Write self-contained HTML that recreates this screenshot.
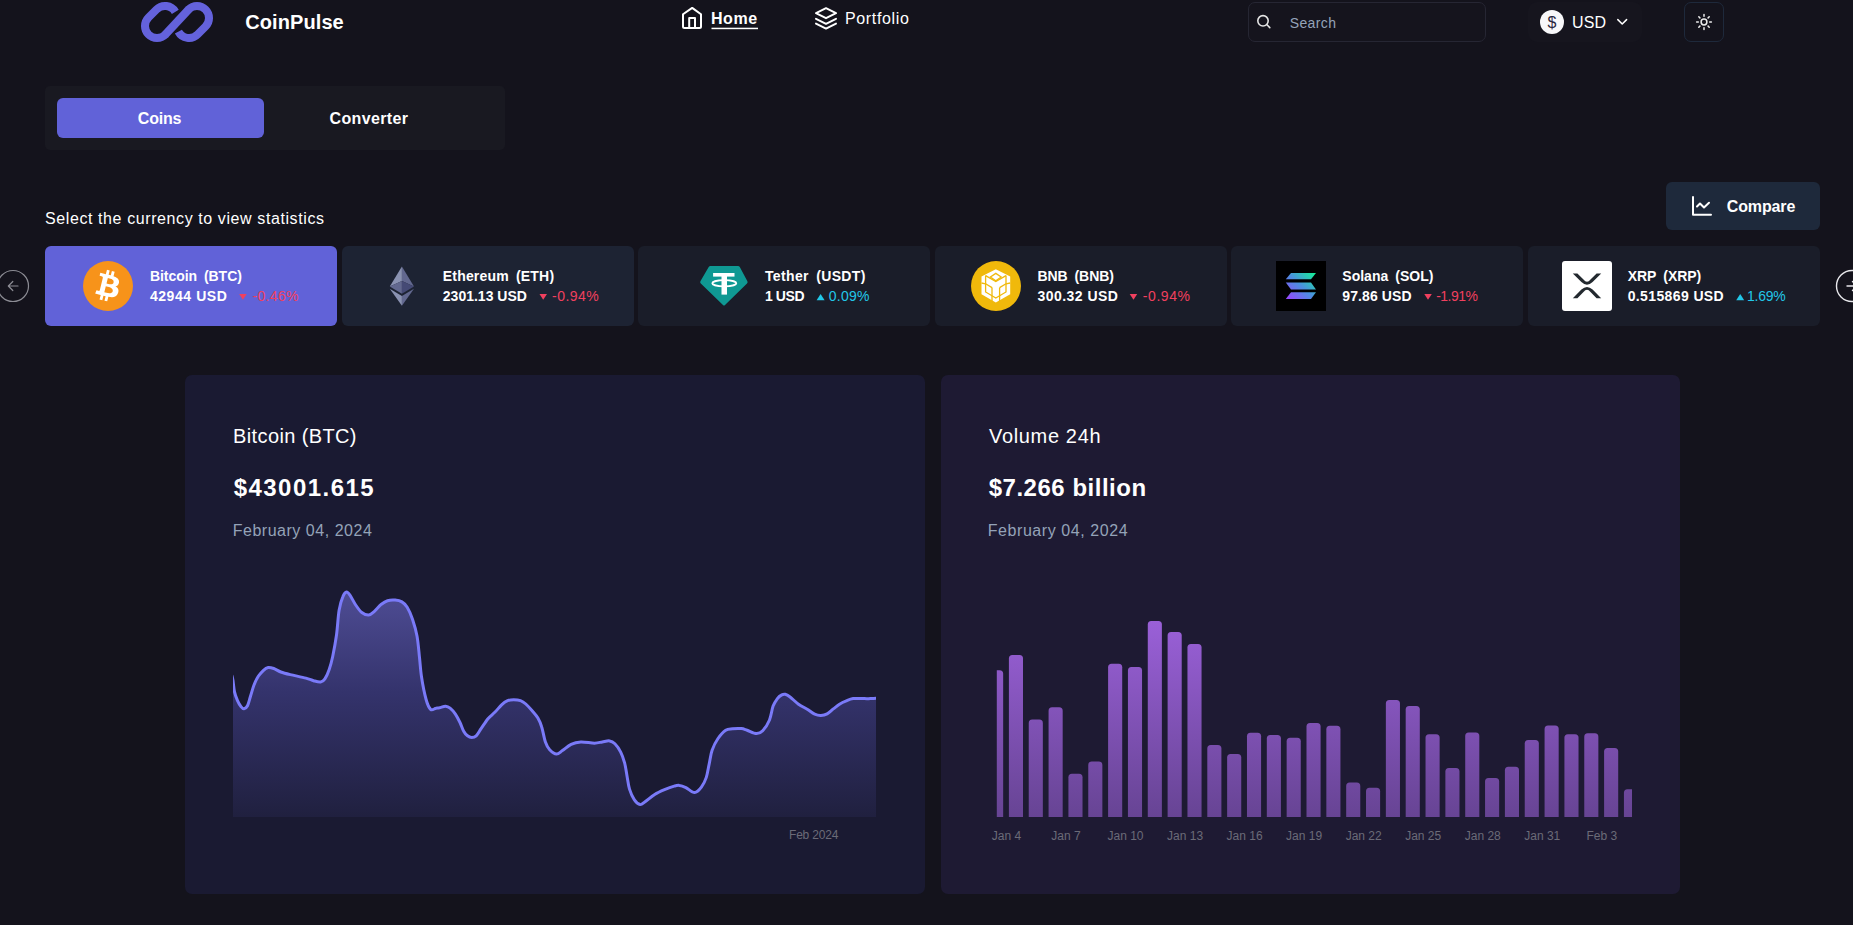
<!DOCTYPE html>
<html><head><meta charset="utf-8"><title>CoinPulse</title>
<style>
html,body{margin:0;padding:0;}
body{width:1853px;height:925px;overflow:hidden;background:#14131c;position:relative;font-family:"Liberation Sans",sans-serif;}
.t{position:absolute;white-space:pre;line-height:1;}
.box{position:absolute;box-sizing:border-box;}
svg{position:absolute;left:0;top:0;overflow:visible;}
</style></head><body>
<!-- header boxes -->
<div class="box" style="left:1248px;top:2px;width:238px;height:40px;border:1px solid #262633;border-radius:7px;background:#15141d"></div>
<div class="box" style="left:1528px;top:2px;width:114px;height:40px;border-radius:9px;background:#16151e"></div>
<div class="box" style="left:1684px;top:2px;width:40px;height:40px;border:1px solid #1e293b;border-radius:7px"></div>
<!-- tabs -->
<div class="box" style="left:45px;top:86px;width:460px;height:64px;background:#191921;border-radius:5px"></div>
<div class="box" style="left:57px;top:98px;width:207px;height:40px;background:#6162d8;border-radius:6px"></div>
<!-- compare -->
<div class="box" style="left:1666px;top:182px;width:154px;height:48px;background:#1e293b;border-radius:6px"></div>
<!-- coin cards -->
<div class="box" style="left:45.00px;top:246px;width:292.08px;height:80px;background:#6162d8;border-radius:6px"></div>
<div class="box" style="left:341.58px;top:246px;width:292.08px;height:80px;background:#1d2333;border-radius:6px"></div>
<div class="box" style="left:638.16px;top:246px;width:292.08px;height:80px;background:#1a1d29;border-radius:6px"></div>
<div class="box" style="left:934.74px;top:246px;width:292.08px;height:80px;background:#1a1d29;border-radius:6px"></div>
<div class="box" style="left:1231.32px;top:246px;width:292.08px;height:80px;background:#1a1d29;border-radius:6px"></div>
<div class="box" style="left:1527.90px;top:246px;width:292.08px;height:80px;background:#1a1d29;border-radius:6px"></div>

<!-- chart cards -->
<div class="box" style="left:185px;top:375px;width:740px;height:519px;background:#1a1a32;border-radius:7px"></div>
<div class="box" style="left:941px;top:375px;width:739px;height:519px;background:#1e1a33;border-radius:7px"></div>

<svg width="1853" height="925" viewBox="0 0 1853 925">
<defs>
<linearGradient id="areaG" gradientUnits="userSpaceOnUse" x1="0" y1="590" x2="0" y2="817">
<stop offset="0" stop-color="#4f4d95"/><stop offset="0.45" stop-color="#34336c"/><stop offset="1" stop-color="#20203f"/>
</linearGradient>
<linearGradient id="barG" gradientUnits="userSpaceOnUse" x1="0" y1="621" x2="0" y2="817">
<stop offset="0" stop-color="#9a60d8"/><stop offset="1" stop-color="#674494"/>
</linearGradient>
<clipPath id="lineClip"><rect x="233" y="560" width="643" height="257"/></clipPath>
<clipPath id="barClip"><rect x="996.8" y="600" width="635.2" height="230"/></clipPath>
<linearGradient id="solG" gradientUnits="userSpaceOnUse" x1="1288" y1="300" x2="1314" y2="272">
<stop offset="0" stop-color="#9945ff"/><stop offset="0.5" stop-color="#4c8fe0"/><stop offset="1" stop-color="#14f195"/>
</linearGradient>
</defs>
<!-- logo -->
<g fill="none" stroke="#6462dc" stroke-width="8"><path d="M175.29,11.82 A12,12 0 0 0 156.51,9.51 L148.51,17.51 A12,12 0 0 0 165.49,34.49" /><path d="M188.51,9.51 A12,12 0 0 1 205.49,26.49 L197.49,34.49 A12,12 0 0 1 178.40,31.63" /><path d="M164.89,35.09 L189.11,8.91" stroke-width="8.2"/></g>
<!-- house -->
<g fill="none" stroke="#ffffff" stroke-width="2" stroke-linejoin="round">
<path d="M683,14.3 L692.2,7.9 L701,14.3 L701,26.4 Q701,27.9 699.5,27.9 L684.5,27.9 Q683,27.9 683,26.4 Z"/>
<path d="M689.2,27.9 L689.2,18.1 L695,18.1 L695,27.9"/>
</g>
<rect x="711.5" y="27.7" width="46.5" height="1.5" fill="#ffffff"/>
<!-- layers -->
<g fill="none" stroke="#ffffff" stroke-width="2" stroke-linejoin="round" stroke-linecap="round">
<path d="M826,8.2 L836,13.2 L826,18.2 L816,13.2 Z"/>
<path d="M816,18.8 L826,23.8 L836,18.8"/>
<path d="M816,23.6 L826,28.6 L836,23.6"/>
</g>
<!-- search icon -->
<g fill="none" stroke="#e5e5e5" stroke-width="1.6" stroke-linecap="round">
<circle cx="1263" cy="20.8" r="5.2"/><path d="M1267,24.8 L1269.8,27.6"/>
</g>
<!-- usd -->
<circle cx="1552" cy="22" r="12" fill="#f8f8fa"/>
<text x="1552" y="27.6" font-family="Liberation Sans" font-size="16" text-anchor="middle" fill="#2a2740">$</text>
<path d="M1617.8,19.6 L1622.2,24 L1626.6,19.6" fill="none" stroke="#ffffff" stroke-width="1.5" stroke-linecap="round" stroke-linejoin="round"/>
<!-- sun -->
<g fill="none" stroke="#ececec" stroke-width="1.5" stroke-linecap="round">
<circle cx="1704" cy="22" r="2.9"/>
<path d="M1704,14.6 V16.3 M1704,27.7 V29.4 M1696.6,22 H1698.3 M1709.7,22 H1711.4 M1698.8,16.8 L1699.9,17.9 M1708.1,26.1 L1709.2,27.2 M1698.8,27.2 L1699.9,26.1 M1708.1,17.9 L1709.2,16.8"/>
</g>
<!-- compare icon -->
<g fill="none" stroke="#ffffff" stroke-width="2" stroke-linecap="round" stroke-linejoin="round">
<path d="M1693,197 V214.8 H1711"/>
<path d="M1697,206.5 L1700,203.5 L1704,207.5 L1709,202.8"/>
</g>
<!-- arrows -->
<g fill="none" stroke="#8c8c94" stroke-width="1.2" stroke-linecap="round" stroke-linejoin="round">
<circle cx="13" cy="286" r="15.5"/>
<path d="M18,286 H8.3 M12.8,281.5 L8.3,286 L12.8,290.5"/>
</g>
<g fill="none" stroke="#e8e8ec" stroke-width="1.4" stroke-linecap="round" stroke-linejoin="round">
<circle cx="1852" cy="286" r="15.5"/>
<path d="M1847,286 H1857 M1852.5,281.5 L1857,286 L1852.5,290.5"/>
</g>
<!-- BTC icon -->
<g transform="translate(83,261) scale(0.78125)">
<circle cx="32" cy="32" r="32" fill="#f7931a"/>
<path fill="#ffffff" d="m46.103,27.444c0.637-4.258-2.605-6.547-7.038-8.074l1.438-5.768-3.511-0.875-1.4,5.616c-0.923-0.23-1.871-0.447-2.813-0.662l1.41-5.653-3.509-0.875-1.439,5.766c-0.764-0.174-1.514-0.346-2.242-0.527l0.004-0.018-4.842-1.209-0.934,3.75s2.605,0.597,2.55,0.634c1.422,0.355,1.679,1.296,1.636,2.042l-1.638,6.571c0.098,0.025,0.225,0.061,0.365,0.117-0.117-0.029-0.242-0.061-0.371-0.092l-2.296,9.205c-0.174,0.432-0.615,1.08-1.609,0.834,0.035,0.051-2.552-0.637-2.552-0.637l-1.743,4.019,4.569,1.139c0.85,0.213,1.683,0.436,2.503,0.646l-1.453,5.834,3.507,0.875,1.439-5.772c0.958,0.26,1.888,0.5,2.798,0.726l-1.434,5.745,3.511,0.875,1.453-5.823c5.987,1.133,10.489,0.676,12.384-4.739,1.527-4.36-0.076-6.875-3.226-8.515,2.294-0.529,4.022-2.038,4.483-5.155zm-8.022,11.249c-1.085,4.36-8.426,2.003-10.806,1.412l1.928-7.729c2.38,0.594,10.012,1.77,8.878,6.317zm1.086-11.312c-0.99,3.966-7.1,1.951-9.082,1.457l1.748-7.01c1.982,0.494,8.365,1.416,7.334,5.553z"/>
</g>
<!-- ETH icon -->
<g transform="translate(389.8,266.4) scale(0.03086)">
<polygon fill="#62688f" points="392.07,0 392.07,472.33 784.13,650.54"/>
<polygon fill="#8a92b2" points="392.07,0 0,650.54 392.07,472.33"/>
<polygon fill="#454a75" points="392.07,882.29 784.13,650.54 392.07,472.33"/>
<polygon fill="#62688f" points="0,650.54 392.07,882.29 392.07,472.33"/>
<polygon fill="#62688f" points="392.07,956.52 392.07,1277.38 784.37,724.89"/>
<polygon fill="#8a92b2" points="392.07,1277.38 392.07,956.52 0,724.89"/>
</g>
<!-- Tether icon -->
<path d="M710.5,266 L738,266 Q739.2,266 739.8,267 L747.4,281.2 Q748,282.4 747,283.4 L725,305 Q724,306 723,305 L700.8,283.4 Q699.8,282.4 700.4,281.2 L708.7,267 Q709.3,266 710.5,266 Z" fill="#0f9993"/>
<rect x="713.1" y="273" width="21.4" height="3.6" fill="#ffffff"/>
<rect x="721.5" y="276" width="5.5" height="18.6" fill="#ffffff"/>
<ellipse cx="724.3" cy="283.2" rx="12" ry="3.1" fill="none" stroke="#ffffff" stroke-width="1.8"/>
<!-- BNB icon -->
<circle cx="996" cy="286" r="25" fill="#f0b90b"/>
<path d="M995.8,269.2 L1010.2,276.6 L1010.2,294.2 L995.8,302.4 L981.5,294.2 L981.5,276.6 Z" fill="#ffffff"/>
<g fill="none" stroke="#f0b90b" stroke-width="1.3" stroke-linejoin="miter">
<path d="M995.8,273.4 L1001.2,277 L995.8,280.8 L990.4,277 Z"/>
<path d="M985.6,275.6 L995.8,281.6 L1006,275.6"/>
<path d="M985.6,275.6 L985.6,292 L992,295.8"/>
<path d="M1006,275.6 L1006,292 L999.6,295.8"/>
<path d="M992,287.6 L992,303"/>
<path d="M999.6,287.6 L999.6,303"/>
<path d="M985.6,283.8 L992,287.6 M1006,283.8 L999.6,287.6"/>
<path d="M992,295.8 L995.8,298 L999.6,295.8"/>
<path d="M981.5,283 L985.6,283.8 M1010.2,283 L1006,283.8"/>
</g>
<!-- SOL icon -->
<rect x="1276" y="261" width="50" height="50" fill="#000000"/>
<g fill="url(#solG)">
<path d="M1291,273 L1316,273 L1311,279.3 L1285.8,279.3 Z"/>
<path d="M1285.8,282.6 L1311,282.6 L1316,289.4 L1291,289.4 Z"/>
<path d="M1291,292.3 L1316,292.3 L1311,299.1 L1285.8,299.1 Z"/>
</g>
<!-- XRP icon -->
<rect x="1562" y="261" width="50" height="50" rx="3" fill="#ffffff"/>
<path fill="#23292f" d="M1572.8,273.4 L1577.4,273.4 L1583.5,279.5 Q1587,284.1 1590.5,279.5 L1596.6,273.4 L1601.2,273.4 L1592.6,282 Q1587,287.4 1581.4,282 Z"/>
<path fill="#23292f" d="M1572.8,298.2 L1577.4,298.2 L1583.5,292.1 Q1587,287.5 1590.5,292.1 L1596.6,298.2 L1601.2,298.2 L1592.6,289.6 Q1587,284.2 1581.4,289.6 Z"/>
<!-- change triangles -->
<path d="M239.2,294.0 L246.7,294 L242.9,299.8 Z" fill="#f0405e"/><path d="M539.5,294.0 L547.0,294 L543.2,299.8 Z" fill="#f0405e"/><path d="M816.6,300.2 L824.6,300.2 L820.6,294 Z" fill="#22c7e8"/><path d="M1129.7,294.0 L1137.2,294 L1133.5,299.8 Z" fill="#f0405e"/><path d="M1424.3,294.0 L1431.8,294 L1428.0,299.8 Z" fill="#f0405e"/><path d="M1736.2,300.2 L1744.2,300.2 L1740.2,294 Z" fill="#22c7e8"/>
<!-- line chart -->
<g clip-path="url(#lineClip)"><path d="M232.0,676.0 C232.2,676.8 232.6,677.9 233.0,680.5 C233.4,683.1 233.8,688.5 234.5,691.9 C235.2,695.2 236.4,698.1 237.5,700.6 C238.6,703.1 239.9,705.2 241.0,706.6 C242.1,708.0 242.9,708.9 244.0,708.8 C245.1,708.6 246.4,707.8 247.5,705.7 C248.6,703.6 249.4,699.7 250.5,696.2 C251.6,692.8 252.7,688.3 254.0,685.0 C255.3,681.7 256.7,678.8 258.3,676.3 C259.9,673.8 261.9,671.8 263.5,670.3 C265.1,668.8 266.5,667.8 268.2,667.5 C269.9,667.2 271.7,667.8 273.8,668.5 C275.9,669.2 278.1,671.0 280.8,672.0 C283.6,673.0 286.1,673.6 290.3,674.6 C294.5,675.6 302.0,677.1 305.9,678.1 C309.8,679.1 311.2,680.1 313.6,680.7 C316.1,681.4 318.7,682.3 320.6,682.0 C322.5,681.7 323.5,681.0 324.9,678.9 C326.3,676.8 327.9,673.1 329.2,669.4 C330.5,665.7 331.5,662.2 332.7,656.5 C333.9,650.8 335.4,642.7 336.5,635.0 C337.6,627.3 338.0,616.7 339.1,610.3 C340.2,603.9 341.6,599.6 342.9,596.6 C344.1,593.6 345.4,592.2 346.6,592.1 C347.9,592.0 348.9,593.8 350.4,595.9 C351.9,598.0 353.8,602.2 355.7,605.0 C357.6,607.8 359.6,610.8 361.8,612.5 C364.0,614.2 366.6,615.2 368.6,615.1 C370.6,615.0 371.8,613.6 373.9,611.8 C376.0,610.0 379.1,606.1 381.4,604.2 C383.7,602.4 385.2,601.4 387.5,600.7 C389.8,600.0 392.7,599.9 395.1,600.1 C397.5,600.3 399.9,600.7 401.9,601.9 C403.9,603.1 405.4,604.3 407.2,607.2 C409.0,610.1 410.9,614.5 412.5,619.3 C414.1,624.1 415.9,630.0 417.0,636.0 C418.1,642.0 418.6,648.8 419.3,655.6 C420.1,662.4 420.4,669.5 421.5,676.8 C422.6,684.1 424.6,694.1 426.1,699.5 C427.6,704.9 429.0,707.8 430.6,709.3 C432.2,710.8 434.4,708.5 435.9,708.3 C437.4,708.0 437.9,708.1 439.5,707.8 C441.1,707.5 443.8,706.2 445.6,706.3 C447.4,706.4 448.5,706.9 450.1,708.2 C451.7,709.5 453.8,711.8 455.4,714.2 C457.0,716.6 458.6,719.7 460.0,722.5 C461.4,725.3 462.4,729.0 463.7,731.2 C464.9,733.4 466.2,734.8 467.5,735.8 C468.8,736.8 470.2,737.5 471.7,737.5 C473.1,737.5 474.6,737.3 476.2,735.8 C477.8,734.3 479.1,731.5 481.1,728.6 C483.1,725.8 485.7,721.4 488.0,718.7 C490.3,716.0 492.5,714.6 494.8,712.3 C497.1,710.0 499.5,706.8 501.6,704.8 C503.7,702.8 505.6,701.5 507.6,700.6 C509.6,699.8 511.6,699.7 513.7,699.7 C515.9,699.7 518.5,699.9 520.5,700.6 C522.5,701.3 523.8,702.2 525.8,704.0 C527.8,705.8 530.6,708.9 532.6,711.2 C534.6,713.5 536.4,715.4 537.9,718.0 C539.4,720.6 540.5,723.0 541.7,727.0 C543.0,731.0 544.1,738.2 545.4,742.0 C546.7,745.8 547.9,747.7 549.7,749.7 C551.6,751.7 554.4,753.9 556.5,754.0 C558.6,754.1 560.0,752.2 562.4,750.6 C564.8,749.0 568.0,745.8 571.1,744.3 C574.2,742.8 577.0,742.1 580.9,741.9 C584.8,741.7 590.9,743.2 594.5,743.2 C598.1,743.2 599.8,742.3 602.3,741.9 C604.8,741.5 607.5,740.6 609.6,740.9 C611.7,741.2 613.0,741.9 614.9,743.8 C616.8,745.7 619.1,748.9 620.7,752.1 C622.3,755.3 623.5,758.8 624.6,762.8 C625.7,766.8 626.3,772.0 627.1,776.4 C627.9,780.8 628.3,785.2 629.5,789.1 C630.7,793.0 632.6,797.2 634.4,799.8 C636.2,802.4 638.4,804.3 640.2,804.6 C642.0,804.9 642.7,803.4 645.1,801.7 C647.5,800.0 651.5,796.4 654.7,794.4 C657.9,792.4 661.2,791.0 664.5,789.6 C667.8,788.2 671.7,786.8 674.2,786.1 C676.7,785.4 677.5,785.1 679.5,785.4 C681.5,785.6 683.4,786.4 685.9,787.6 C688.4,788.8 692.0,792.6 694.6,792.5 C697.2,792.4 699.5,789.6 701.4,787.1 C703.3,784.6 705.0,781.3 706.3,777.4 C707.6,773.5 708.2,768.3 709.2,763.8 C710.2,759.3 710.6,754.4 712.1,750.2 C713.6,746.0 715.7,741.8 718.0,738.5 C720.3,735.2 723.3,731.8 725.7,730.2 C728.1,728.6 729.9,729.1 732.5,728.8 C735.1,728.5 738.9,728.4 741.3,728.6 C743.7,728.8 744.6,729.4 747.1,730.2 C749.6,731.0 753.8,733.5 756.4,733.6 C759.0,733.7 760.5,733.0 762.7,730.7 C764.9,728.4 767.8,724.1 769.5,720.0 C771.2,715.9 771.8,709.7 773.1,706.1 C774.4,702.5 776.0,700.5 777.4,698.6 C778.8,696.7 780.5,695.6 781.8,694.9 C783.1,694.2 783.9,694.0 785.2,694.3 C786.5,694.6 787.6,695.1 789.8,696.8 C792.0,698.4 795.6,702.1 798.5,704.2 C801.4,706.3 804.5,707.6 807.2,709.2 C809.9,710.9 812.4,713.1 814.7,714.1 C817.0,715.1 818.8,715.5 820.9,715.4 C823.0,715.3 825.0,714.9 827.1,713.8 C829.2,712.7 831.2,710.5 833.3,708.9 C835.4,707.3 837.4,705.5 839.5,704.2 C841.6,702.9 843.4,702.0 845.7,701.1 C848.0,700.2 850.0,699.0 853.1,698.6 C856.2,698.2 861.4,698.6 864.3,698.6 C867.2,698.6 868.4,698.7 870.5,698.6 C872.6,698.5 875.9,698.3 877.0,698.2 L877,817 L232,817 Z" fill="url(#areaG)"/>
<path d="M232.0,676.0 C232.2,676.8 232.6,677.9 233.0,680.5 C233.4,683.1 233.8,688.5 234.5,691.9 C235.2,695.2 236.4,698.1 237.5,700.6 C238.6,703.1 239.9,705.2 241.0,706.6 C242.1,708.0 242.9,708.9 244.0,708.8 C245.1,708.6 246.4,707.8 247.5,705.7 C248.6,703.6 249.4,699.7 250.5,696.2 C251.6,692.8 252.7,688.3 254.0,685.0 C255.3,681.7 256.7,678.8 258.3,676.3 C259.9,673.8 261.9,671.8 263.5,670.3 C265.1,668.8 266.5,667.8 268.2,667.5 C269.9,667.2 271.7,667.8 273.8,668.5 C275.9,669.2 278.1,671.0 280.8,672.0 C283.6,673.0 286.1,673.6 290.3,674.6 C294.5,675.6 302.0,677.1 305.9,678.1 C309.8,679.1 311.2,680.1 313.6,680.7 C316.1,681.4 318.7,682.3 320.6,682.0 C322.5,681.7 323.5,681.0 324.9,678.9 C326.3,676.8 327.9,673.1 329.2,669.4 C330.5,665.7 331.5,662.2 332.7,656.5 C333.9,650.8 335.4,642.7 336.5,635.0 C337.6,627.3 338.0,616.7 339.1,610.3 C340.2,603.9 341.6,599.6 342.9,596.6 C344.1,593.6 345.4,592.2 346.6,592.1 C347.9,592.0 348.9,593.8 350.4,595.9 C351.9,598.0 353.8,602.2 355.7,605.0 C357.6,607.8 359.6,610.8 361.8,612.5 C364.0,614.2 366.6,615.2 368.6,615.1 C370.6,615.0 371.8,613.6 373.9,611.8 C376.0,610.0 379.1,606.1 381.4,604.2 C383.7,602.4 385.2,601.4 387.5,600.7 C389.8,600.0 392.7,599.9 395.1,600.1 C397.5,600.3 399.9,600.7 401.9,601.9 C403.9,603.1 405.4,604.3 407.2,607.2 C409.0,610.1 410.9,614.5 412.5,619.3 C414.1,624.1 415.9,630.0 417.0,636.0 C418.1,642.0 418.6,648.8 419.3,655.6 C420.1,662.4 420.4,669.5 421.5,676.8 C422.6,684.1 424.6,694.1 426.1,699.5 C427.6,704.9 429.0,707.8 430.6,709.3 C432.2,710.8 434.4,708.5 435.9,708.3 C437.4,708.0 437.9,708.1 439.5,707.8 C441.1,707.5 443.8,706.2 445.6,706.3 C447.4,706.4 448.5,706.9 450.1,708.2 C451.7,709.5 453.8,711.8 455.4,714.2 C457.0,716.6 458.6,719.7 460.0,722.5 C461.4,725.3 462.4,729.0 463.7,731.2 C464.9,733.4 466.2,734.8 467.5,735.8 C468.8,736.8 470.2,737.5 471.7,737.5 C473.1,737.5 474.6,737.3 476.2,735.8 C477.8,734.3 479.1,731.5 481.1,728.6 C483.1,725.8 485.7,721.4 488.0,718.7 C490.3,716.0 492.5,714.6 494.8,712.3 C497.1,710.0 499.5,706.8 501.6,704.8 C503.7,702.8 505.6,701.5 507.6,700.6 C509.6,699.8 511.6,699.7 513.7,699.7 C515.9,699.7 518.5,699.9 520.5,700.6 C522.5,701.3 523.8,702.2 525.8,704.0 C527.8,705.8 530.6,708.9 532.6,711.2 C534.6,713.5 536.4,715.4 537.9,718.0 C539.4,720.6 540.5,723.0 541.7,727.0 C543.0,731.0 544.1,738.2 545.4,742.0 C546.7,745.8 547.9,747.7 549.7,749.7 C551.6,751.7 554.4,753.9 556.5,754.0 C558.6,754.1 560.0,752.2 562.4,750.6 C564.8,749.0 568.0,745.8 571.1,744.3 C574.2,742.8 577.0,742.1 580.9,741.9 C584.8,741.7 590.9,743.2 594.5,743.2 C598.1,743.2 599.8,742.3 602.3,741.9 C604.8,741.5 607.5,740.6 609.6,740.9 C611.7,741.2 613.0,741.9 614.9,743.8 C616.8,745.7 619.1,748.9 620.7,752.1 C622.3,755.3 623.5,758.8 624.6,762.8 C625.7,766.8 626.3,772.0 627.1,776.4 C627.9,780.8 628.3,785.2 629.5,789.1 C630.7,793.0 632.6,797.2 634.4,799.8 C636.2,802.4 638.4,804.3 640.2,804.6 C642.0,804.9 642.7,803.4 645.1,801.7 C647.5,800.0 651.5,796.4 654.7,794.4 C657.9,792.4 661.2,791.0 664.5,789.6 C667.8,788.2 671.7,786.8 674.2,786.1 C676.7,785.4 677.5,785.1 679.5,785.4 C681.5,785.6 683.4,786.4 685.9,787.6 C688.4,788.8 692.0,792.6 694.6,792.5 C697.2,792.4 699.5,789.6 701.4,787.1 C703.3,784.6 705.0,781.3 706.3,777.4 C707.6,773.5 708.2,768.3 709.2,763.8 C710.2,759.3 710.6,754.4 712.1,750.2 C713.6,746.0 715.7,741.8 718.0,738.5 C720.3,735.2 723.3,731.8 725.7,730.2 C728.1,728.6 729.9,729.1 732.5,728.8 C735.1,728.5 738.9,728.4 741.3,728.6 C743.7,728.8 744.6,729.4 747.1,730.2 C749.6,731.0 753.8,733.5 756.4,733.6 C759.0,733.7 760.5,733.0 762.7,730.7 C764.9,728.4 767.8,724.1 769.5,720.0 C771.2,715.9 771.8,709.7 773.1,706.1 C774.4,702.5 776.0,700.5 777.4,698.6 C778.8,696.7 780.5,695.6 781.8,694.9 C783.1,694.2 783.9,694.0 785.2,694.3 C786.5,694.6 787.6,695.1 789.8,696.8 C792.0,698.4 795.6,702.1 798.5,704.2 C801.4,706.3 804.5,707.6 807.2,709.2 C809.9,710.9 812.4,713.1 814.7,714.1 C817.0,715.1 818.8,715.5 820.9,715.4 C823.0,715.3 825.0,714.9 827.1,713.8 C829.2,712.7 831.2,710.5 833.3,708.9 C835.4,707.3 837.4,705.5 839.5,704.2 C841.6,702.9 843.4,702.0 845.7,701.1 C848.0,700.2 850.0,699.0 853.1,698.6 C856.2,698.2 861.4,698.6 864.3,698.6 C867.2,698.6 868.4,698.7 870.5,698.6 C872.6,698.5 875.9,698.3 877.0,698.2" fill="none" stroke="#7a7af8" stroke-width="3" stroke-linejoin="round" stroke-linecap="round"/></g>
<!-- bars -->
<g fill="url(#barG)" clip-path="url(#barClip)">
<path d="M989.06,817 L989.06,673.80 Q989.06,670.30 992.56,670.30 L999.66,670.30 Q1003.16,670.30 1003.16,673.80 L1003.16,817 Z"/><path d="M1008.90,817 L1008.90,658.40 Q1008.90,654.90 1012.40,654.90 L1019.50,654.90 Q1023.00,654.90 1023.00,658.40 L1023.00,817 Z"/><path d="M1028.74,817 L1028.74,723.00 Q1028.74,719.50 1032.24,719.50 L1039.34,719.50 Q1042.84,719.50 1042.84,723.00 L1042.84,817 Z"/><path d="M1048.58,817 L1048.58,710.80 Q1048.58,707.30 1052.08,707.30 L1059.18,707.30 Q1062.68,707.30 1062.68,710.80 L1062.68,817 Z"/><path d="M1068.42,817 L1068.42,777.30 Q1068.42,773.80 1071.92,773.80 L1079.02,773.80 Q1082.52,773.80 1082.52,777.30 L1082.52,817 Z"/><path d="M1088.26,817 L1088.26,764.90 Q1088.26,761.40 1091.76,761.40 L1098.86,761.40 Q1102.36,761.40 1102.36,764.90 L1102.36,817 Z"/><path d="M1108.10,817 L1108.10,667.30 Q1108.10,663.80 1111.60,663.80 L1118.70,663.80 Q1122.20,663.80 1122.20,667.30 L1122.20,817 Z"/><path d="M1127.94,817 L1127.94,670.50 Q1127.94,667.00 1131.44,667.00 L1138.54,667.00 Q1142.04,667.00 1142.04,670.50 L1142.04,817 Z"/><path d="M1147.78,817 L1147.78,624.50 Q1147.78,621.00 1151.28,621.00 L1158.38,621.00 Q1161.88,621.00 1161.88,624.50 L1161.88,817 Z"/><path d="M1167.62,817 L1167.62,635.40 Q1167.62,631.90 1171.12,631.90 L1178.22,631.90 Q1181.72,631.90 1181.72,635.40 L1181.72,817 Z"/><path d="M1187.46,817 L1187.46,647.50 Q1187.46,644.00 1190.96,644.00 L1198.06,644.00 Q1201.56,644.00 1201.56,647.50 L1201.56,817 Z"/><path d="M1207.30,817 L1207.30,748.60 Q1207.30,745.10 1210.80,745.10 L1217.90,745.10 Q1221.40,745.10 1221.40,748.60 L1221.40,817 Z"/><path d="M1227.14,817 L1227.14,757.50 Q1227.14,754.00 1230.64,754.00 L1237.74,754.00 Q1241.24,754.00 1241.24,757.50 L1241.24,817 Z"/><path d="M1246.98,817 L1246.98,736.20 Q1246.98,732.70 1250.48,732.70 L1257.58,732.70 Q1261.08,732.70 1261.08,736.20 L1261.08,817 Z"/><path d="M1266.82,817 L1266.82,738.40 Q1266.82,734.90 1270.32,734.90 L1277.42,734.90 Q1280.92,734.90 1280.92,738.40 L1280.92,817 Z"/><path d="M1286.66,817 L1286.66,741.30 Q1286.66,737.80 1290.16,737.80 L1297.26,737.80 Q1300.76,737.80 1300.76,741.30 L1300.76,817 Z"/><path d="M1306.50,817 L1306.50,726.50 Q1306.50,723.00 1310.00,723.00 L1317.10,723.00 Q1320.60,723.00 1320.60,726.50 L1320.60,817 Z"/><path d="M1326.34,817 L1326.34,729.20 Q1326.34,725.70 1329.84,725.70 L1336.94,725.70 Q1340.44,725.70 1340.44,729.20 L1340.44,817 Z"/><path d="M1346.18,817 L1346.18,785.90 Q1346.18,782.40 1349.68,782.40 L1356.78,782.40 Q1360.28,782.40 1360.28,785.90 L1360.28,817 Z"/><path d="M1366.02,817 L1366.02,791.30 Q1366.02,787.80 1369.52,787.80 L1376.62,787.80 Q1380.12,787.80 1380.12,791.30 L1380.12,817 Z"/><path d="M1385.86,817 L1385.86,703.50 Q1385.86,700.00 1389.36,700.00 L1396.46,700.00 Q1399.96,700.00 1399.96,703.50 L1399.96,817 Z"/><path d="M1405.70,817 L1405.70,709.50 Q1405.70,706.00 1409.20,706.00 L1416.30,706.00 Q1419.80,706.00 1419.80,709.50 L1419.80,817 Z"/><path d="M1425.54,817 L1425.54,737.80 Q1425.54,734.30 1429.04,734.30 L1436.14,734.30 Q1439.64,734.30 1439.64,737.80 L1439.64,817 Z"/><path d="M1445.38,817 L1445.38,771.60 Q1445.38,768.10 1448.88,768.10 L1455.98,768.10 Q1459.48,768.10 1459.48,771.60 L1459.48,817 Z"/><path d="M1465.22,817 L1465.22,735.90 Q1465.22,732.40 1468.72,732.40 L1475.82,732.40 Q1479.32,732.40 1479.32,735.90 L1479.32,817 Z"/><path d="M1485.06,817 L1485.06,781.60 Q1485.06,778.10 1488.56,778.10 L1495.66,778.10 Q1499.16,778.10 1499.16,781.60 L1499.16,817 Z"/><path d="M1504.90,817 L1504.90,770.30 Q1504.90,766.80 1508.40,766.80 L1515.50,766.80 Q1519.00,766.80 1519.00,770.30 L1519.00,817 Z"/><path d="M1524.74,817 L1524.74,743.50 Q1524.74,740.00 1528.24,740.00 L1535.34,740.00 Q1538.84,740.00 1538.84,743.50 L1538.84,817 Z"/><path d="M1544.58,817 L1544.58,728.90 Q1544.58,725.40 1548.08,725.40 L1555.18,725.40 Q1558.68,725.40 1558.68,728.90 L1558.68,817 Z"/><path d="M1564.42,817 L1564.42,737.80 Q1564.42,734.30 1567.92,734.30 L1575.02,734.30 Q1578.52,734.30 1578.52,737.80 L1578.52,817 Z"/><path d="M1584.26,817 L1584.26,736.70 Q1584.26,733.20 1587.76,733.20 L1594.86,733.20 Q1598.36,733.20 1598.36,736.70 L1598.36,817 Z"/><path d="M1604.10,817 L1604.10,751.60 Q1604.10,748.10 1607.60,748.10 L1614.70,748.10 Q1618.20,748.10 1618.20,751.60 L1618.20,817 Z"/><path d="M1623.94,817 L1623.94,792.70 Q1623.94,789.20 1627.44,789.20 L1634.54,789.20 Q1638.04,789.20 1638.04,792.70 L1638.04,817 Z"/>
</g>
</svg>
<div class="t" style="left:245.30px;top:11.87px;font-size:20px;font-weight:bold;color:#ffffff;letter-spacing:0.079px;">CoinPulse</div>
<div class="t" style="left:711.00px;top:11.16px;font-size:16px;font-weight:bold;color:#ffffff;letter-spacing:0.548px;">Home</div>
<div class="t" style="left:845.00px;top:11.36px;font-size:16px;font-weight:normal;color:#ffffff;letter-spacing:0.650px;">Portfolio</div>
<div class="t" style="left:1289.70px;top:15.95px;font-size:14px;font-weight:normal;color:#94a3b8;letter-spacing:0.386px;">Search</div>
<div class="t" style="left:1571.90px;top:15.26px;font-size:16px;font-weight:normal;color:#ffffff;letter-spacing:0.187px;">USD</div>
<div class="t" style="left:137.80px;top:111.26px;font-size:16px;font-weight:bold;color:#ffffff;letter-spacing:-0.187px;">Coins</div>
<div class="t" style="left:329.50px;top:111.26px;font-size:16px;font-weight:bold;color:#ffffff;letter-spacing:0.369px;">Converter</div>
<div class="t" style="left:45.00px;top:210.56px;font-size:16px;font-weight:normal;color:#ffffff;letter-spacing:0.595px;">Select the currency to view statistics</div>
<div class="t" style="left:1726.70px;top:199.06px;font-size:16px;font-weight:bold;color:#ffffff;letter-spacing:-0.109px;">Compare</div>
<div class="t" style="left:149.90px;top:268.95px;font-size:14px;font-weight:bold;color:#ffffff;letter-spacing:-0.048px;">Bitcoin (BTC)</div>
<div class="t" style="left:149.90px;top:289.15px;font-size:14px;font-weight:bold;color:#ffffff;letter-spacing:0.579px;">42944 USD</div>
<div class="t" style="left:252.50px;top:289.35px;font-size:14px;font-weight:normal;color:#f0405e;letter-spacing:0.318px;">-0.46%</div>
<div class="t" style="left:442.80px;top:268.95px;font-size:14px;font-weight:bold;color:#ffffff;letter-spacing:0.182px;">Ethereum (ETH)</div>
<div class="t" style="left:442.80px;top:289.15px;font-size:14px;font-weight:bold;color:#ffffff;letter-spacing:0.006px;">2301.13 USD</div>
<div class="t" style="left:552.00px;top:289.35px;font-size:14px;font-weight:normal;color:#f0405e;letter-spacing:0.478px;">-0.94%</div>
<div class="t" style="left:765.00px;top:268.95px;font-size:14px;font-weight:bold;color:#ffffff;letter-spacing:0.348px;">Tether (USDT)</div>
<div class="t" style="left:765.00px;top:289.15px;font-size:14px;font-weight:bold;color:#ffffff;letter-spacing:-0.406px;">1 USD</div>
<div class="t" style="left:828.80px;top:289.35px;font-size:14px;font-weight:normal;color:#22c7e8;letter-spacing:0.238px;">0.09%</div>
<div class="t" style="left:1037.50px;top:268.95px;font-size:14px;font-weight:bold;color:#ffffff;letter-spacing:-0.078px;">BNB (BNB)</div>
<div class="t" style="left:1037.50px;top:289.15px;font-size:14px;font-weight:bold;color:#ffffff;letter-spacing:0.460px;">300.32 USD</div>
<div class="t" style="left:1142.80px;top:289.35px;font-size:14px;font-weight:normal;color:#f0405e;letter-spacing:0.578px;">-0.94%</div>
<div class="t" style="left:1342.30px;top:268.95px;font-size:14px;font-weight:bold;color:#ffffff;letter-spacing:0.014px;">Solana (SOL)</div>
<div class="t" style="left:1342.30px;top:289.15px;font-size:14px;font-weight:bold;color:#ffffff;letter-spacing:0.091px;">97.86 USD</div>
<div class="t" style="left:1436.20px;top:289.35px;font-size:14px;font-weight:normal;color:#f0405e;letter-spacing:-0.522px;">-1.91%</div>
<div class="t" style="left:1627.70px;top:268.95px;font-size:14px;font-weight:bold;color:#ffffff;letter-spacing:-0.042px;">XRP (XRP)</div>
<div class="t" style="left:1627.70px;top:289.15px;font-size:14px;font-weight:bold;color:#ffffff;letter-spacing:0.379px;">0.515869 USD</div>
<div class="t" style="left:1747.00px;top:289.35px;font-size:14px;font-weight:normal;color:#22c7e8;letter-spacing:-0.237px;">1.69%</div>
<div class="t" style="left:233.10px;top:425.97px;font-size:20px;font-weight:normal;color:#ffffff;letter-spacing:0.371px;">Bitcoin (BTC)</div>
<div class="t" style="left:233.70px;top:475.88px;font-size:24px;font-weight:bold;color:#ffffff;letter-spacing:1.461px;">$43001.615</div>
<div class="t" style="left:232.70px;top:523.26px;font-size:16px;font-weight:normal;color:#94a3b8;letter-spacing:0.522px;">February 04, 2024</div>
<div class="t" style="left:989.10px;top:425.97px;font-size:20px;font-weight:normal;color:#ffffff;letter-spacing:0.643px;">Volume 24h</div>
<div class="t" style="left:988.70px;top:475.88px;font-size:24px;font-weight:bold;color:#ffffff;letter-spacing:0.518px;">$7.266 billion</div>
<div class="t" style="left:987.70px;top:523.26px;font-size:16px;font-weight:normal;color:#94a3b8;letter-spacing:0.578px;">February 04, 2024</div>
<div class="t" style="left:789.00px;top:829.44px;font-size:12px;font-weight:normal;color:#6b6b78;letter-spacing:-0.190px;">Feb 2024</div>
<div class="t" style="left:991.76px;top:829.94px;font-size:12px;color:#6b6b78">Jan 4</div>
<div class="t" style="left:1051.30px;top:829.94px;font-size:12px;color:#6b6b78">Jan 7</div>
<div class="t" style="left:1107.50px;top:829.94px;font-size:12px;color:#6b6b78">Jan 10</div>
<div class="t" style="left:1167.04px;top:829.94px;font-size:12px;color:#6b6b78">Jan 13</div>
<div class="t" style="left:1226.58px;top:829.94px;font-size:12px;color:#6b6b78">Jan 16</div>
<div class="t" style="left:1286.12px;top:829.94px;font-size:12px;color:#6b6b78">Jan 19</div>
<div class="t" style="left:1345.66px;top:829.94px;font-size:12px;color:#6b6b78">Jan 22</div>
<div class="t" style="left:1405.20px;top:829.94px;font-size:12px;color:#6b6b78">Jan 25</div>
<div class="t" style="left:1464.74px;top:829.94px;font-size:12px;color:#6b6b78">Jan 28</div>
<div class="t" style="left:1524.28px;top:829.94px;font-size:12px;color:#6b6b78">Jan 31</div>
<div class="t" style="left:1586.49px;top:829.94px;font-size:12px;color:#6b6b78">Feb 3</div>
</body></html>
